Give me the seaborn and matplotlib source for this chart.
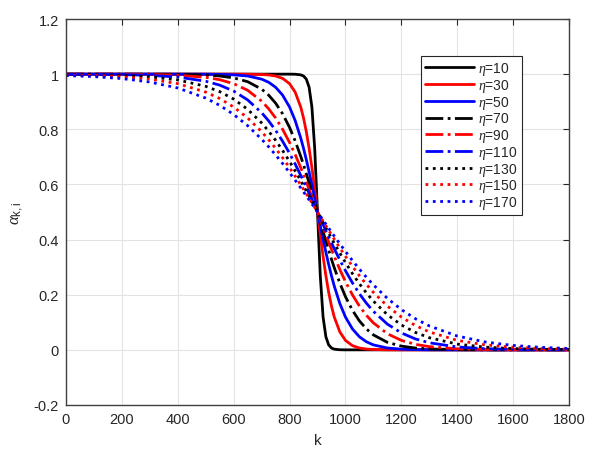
import numpy as np
import pandas as pd
import matplotlib

matplotlib.use("Agg")
import matplotlib.pyplot as plt
from matplotlib.ticker import FormatStrFormatter
import seaborn as sns

# sample positions along k (denser around the transition at k=900)
k_values = [0, 100, 200, 300, 400, 500, 550, 600, 650, 700, 725, 750, 775, 800, 820,
            840, 850, 860, 870, 880, 890, 900, 910, 920, 930, 940, 950, 960, 980, 1000,
            1025, 1050, 1075, 1100, 1150, 1200, 1250, 1300, 1400, 1500, 1600, 1700, 1800]

eta_labels = [10, 30, 50, 70, 90, 110, 130, 150, 170]

alpha_eta10 = [1, 1, 1, 1, 1, 1, 1, 1, 1, 1, 1, 1, 1, 1.0, 0.9997, 0.9975, 0.9933, 0.982, 0.9526, 0.8808, 0.7311,
               0.5,
               0.2689, 0.1192, 0.0474, 0.018, 0.0067, 0.0025, 0.0003, 0.0,
               0, 0, 0, 0, 0, 0, 0, 0, 0, 0, 0, 0, 0]
alpha_eta30 = [1, 1, 1, 1, 1, 1.0, 1.0, 1.0, 0.9998, 0.9987, 0.9971, 0.9933, 0.9847, 0.9656, 0.935, 0.8808, 0.8412,
               0.7914, 0.7311, 0.6608, 0.5826,
               0.5,
               0.4174, 0.3392, 0.2689, 0.2086, 0.1588, 0.1192, 0.065, 0.0344, 0.0153, 0.0067, 0.0029, 0.0013,
               0.0002, 0.0, 0, 0, 0, 0, 0, 0, 0]
alpha_eta50 = [1, 1, 1, 1.0, 1.0, 0.9997, 0.9991, 0.9975, 0.9933, 0.982, 0.9707, 0.9526, 0.9241, 0.8808, 0.832,
               0.7685, 0.7311, 0.69, 0.6457, 0.5987, 0.5498,
               0.5,
               0.4502, 0.4013, 0.3543, 0.31, 0.2689, 0.2315, 0.168, 0.1192, 0.0759, 0.0474, 0.0293, 0.018,
               0.0067, 0.0025, 0.0009, 0.0003, 0.0, 0, 0, 0, 0]
alpha_eta70 = [1, 1, 1.0, 0.9998, 0.9992, 0.9967, 0.9933, 0.9864, 0.9727, 0.9457, 0.9241, 0.895, 0.8564, 0.8068,
               0.7582, 0.702, 0.6713, 0.639, 0.6055, 0.5709, 0.5357,
               0.5,
               0.4643, 0.4291, 0.3945, 0.361, 0.3287, 0.298, 0.2418, 0.1932, 0.1436, 0.105, 0.0759, 0.0543,
               0.0273, 0.0136, 0.0067, 0.0033, 0.0008, 0.0002, 0.0, 0, 0]
alpha_eta90 = [1.0, 0.9999, 0.9996, 0.9987, 0.9962, 0.9884, 0.9799, 0.9656, 0.9415, 0.9022, 0.8748, 0.8412, 0.8004,
               0.7523, 0.7087, 0.6608, 0.6355, 0.6092, 0.5826, 0.5553, 0.5277,
               0.5,
               0.4723, 0.4447, 0.4174, 0.3908, 0.3645, 0.3392, 0.2913, 0.2477, 0.1996, 0.1588, 0.1252, 0.0978,
               0.0585, 0.0344, 0.0201, 0.0116, 0.0038, 0.0013, 0.0004, 0.0001, 0.0]
alpha_eta110 = [0.9997, 0.9993, 0.9983, 0.9957, 0.9895, 0.9743, 0.9602, 0.9386, 0.9066, 0.8603, 0.8307, 0.7964,
                0.7569, 0.7128, 0.6741, 0.633, 0.6117, 0.5901, 0.5678, 0.5453, 0.5227,
                0.5,
                0.4773, 0.4547, 0.4322, 0.4099, 0.3883, 0.367, 0.3259, 0.2872, 0.2431, 0.2036, 0.1693, 0.1397,
                0.0934, 0.0614, 0.0398, 0.0257, 0.0105, 0.0043, 0.0017, 0.0007, 0.0003]
alpha_eta130 = [0.999, 0.9979, 0.9954, 0.9902, 0.9791, 0.9559, 0.9366, 0.9096, 0.8725, 0.8232, 0.7935, 0.7603,
                0.7234, 0.6833, 0.6491, 0.6134, 0.595, 0.5763, 0.5575, 0.5384, 0.5192,
                0.5,
                0.4808, 0.4616, 0.4425, 0.4237, 0.405, 0.3866, 0.3509, 0.3167, 0.2766, 0.2397, 0.2065, 0.1768,
                0.1275, 0.0904, 0.0634, 0.0441, 0.0209, 0.0098, 0.0046, 0.0021, 0.001]
alpha_eta150 = [0.9975, 0.9952, 0.9907, 0.982, 0.9656, 0.935, 0.9116, 0.8808, 0.8412, 0.7914, 0.7625, 0.7311,
                0.6971, 0.6608, 0.6302, 0.5987, 0.5826, 0.5663, 0.5498, 0.5333, 0.5167,
                0.5,
                0.4833, 0.4667, 0.4502, 0.4337, 0.4174, 0.4013, 0.3698, 0.3392, 0.3029, 0.2689, 0.2375, 0.2086,
                0.1588, 0.1192, 0.0884, 0.065, 0.0344, 0.018, 0.0093, 0.0048, 0.0025]
alpha_eta170 = [0.995, 0.991, 0.984, 0.9715, 0.9498, 0.9132, 0.8869, 0.8538, 0.8132, 0.7642, 0.7368, 0.7072,
                0.676, 0.6429, 0.6155, 0.5873, 0.573, 0.5586, 0.544, 0.5294, 0.5147,
                0.5,
                0.4853, 0.4706, 0.456, 0.4414, 0.427, 0.4127, 0.3845, 0.3571, 0.324, 0.2928, 0.2632, 0.2358,
                0.1868, 0.1462, 0.1131, 0.0868, 0.0502, 0.0285, 0.016, 0.009, 0.005]

series = [alpha_eta10, alpha_eta30, alpha_eta50, alpha_eta70, alpha_eta90,
          alpha_eta110, alpha_eta130, alpha_eta150, alpha_eta170]
colors = ["#000000", "#ff0000", "#0000ff"] * 3
styles = ["-"] * 3 + ["-."] * 3 + [":"] * 3

sns.set_style("whitegrid", {"grid.color": "#e3e3e3", "axes.edgecolor": "#262626"})
plt.rcParams["font.family"] = ["Liberation Sans", "DejaVu Sans"]
plt.rcParams["mathtext.fontset"] = "custom"
plt.rcParams["mathtext.it"] = "Liberation Serif:italic"
plt.rcParams["mathtext.rm"] = "Liberation Sans"

fig, ax = plt.subplots(figsize=(5.96, 4.6), dpi=100)
fig.subplots_adjust(left=0.1107, right=0.9547, top=0.9565, bottom=0.1174)

for eta, vals, c, ls in zip(eta_labels, series, colors, styles):
    df = pd.DataFrame({"k": k_values, "alpha": vals})
    sns.lineplot(data=df, x="k", y="alpha", ax=ax, color=c, linestyle=ls,
                 linewidth=2, label=f"$\\eta$={eta}")

ax.set_xlim(0, 1800)
ax.set_ylim(-0.2, 1.2)
ax.set_xticks(np.arange(0, 1801, 200))
ax.set_yticks(np.arange(-0.2, 1.21, 0.2))
ax.yaxis.set_major_formatter(FormatStrFormatter("%g"))
ax.tick_params(direction="in", length=4, width=0.8, colors="#262626",
               labelsize=10.5, top=True, right=True, pad=5)
for sp in ax.spines.values():
    sp.set_linewidth(1.0)
    sp.set_color("#404040")
ax.grid(True, color="#e3e3e3", linewidth=0.8)

ax.set_xlabel("k", fontsize=11, color="#262626", labelpad=5)
ax.set_ylabel("$\\alpha_{\\mathrm{k,i}}$", fontsize=12, color="#262626", labelpad=6)

leg = ax.legend(loc="upper left", bbox_to_anchor=(0.706, 0.904), fontsize=10,
                frameon=True, fancybox=False, framealpha=1, edgecolor="#262626",
                handlelength=3.5, handletextpad=0.3, labelspacing=-0.02,
                borderpad=0.3, borderaxespad=0)
leg.get_frame().set_linewidth(0.8)

fig.savefig("out.png", dpi=100)
plt.close(fig)
